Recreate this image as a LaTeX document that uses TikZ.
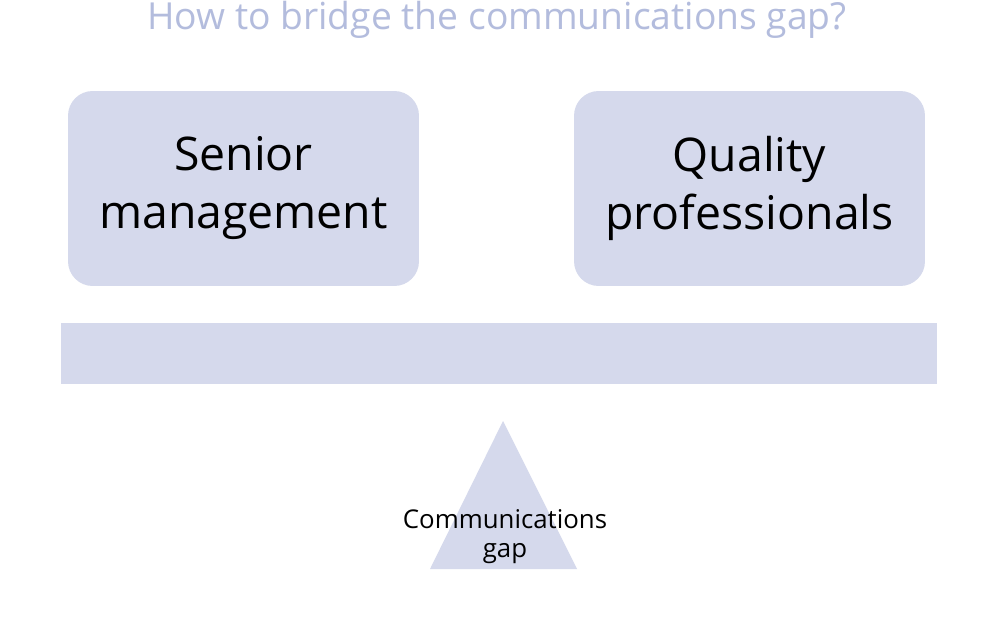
\documentclass[tikz,border=0pt]{standalone}
\usepackage{fontspec}
\setmainfont{Open Sans}
\usetikzlibrary{positioning}
\definecolor{boxfill}{HTML}{D5D9EC}
\definecolor{titlecol}{HTML}{B3BCDD}
\tikzset{
  groupbox/.style={fill=boxfill, rounded corners=14pt, minimum width=7.02cm, minimum height=3.9cm, align=center, font=\fontsize{26.4}{33}\selectfont},
}
\begin{document}
\begin{tikzpicture}[x=0.02cm,y=-0.02cm]
\useasboundingbox[fill=white] (0,0) rectangle (999,628);
\node[text=titlecol, font=\fontsize{21.2}{25}\selectfont] (title) at (497,20) {How to bridge the communications gap?};
\node[groupbox] (senior) at (243.5,188.5) {Senior\\management};
\node[groupbox] (quality) at (749.5,188.5) {Quality\\professionals};
\fill[boxfill] (61,323) rectangle (937,384);
\fill[boxfill] (503,421) -- (577,569) -- (430,569) -- cycle;
\node[align=center, font=\fontsize{14.7}{16.5}\selectfont] (gap) at (505,537) {Communications\\gap};
\end{tikzpicture}
\end{document}
